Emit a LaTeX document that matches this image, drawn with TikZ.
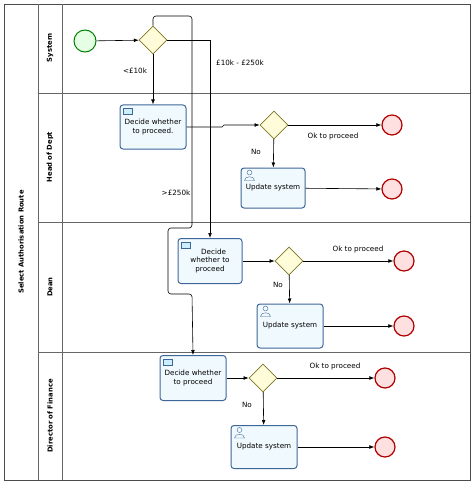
\documentclass[tikz,border=0pt]{standalone}
\usepackage{fontspec}
\setmainfont{DejaVu Sans}
\usetikzlibrary{shapes.geometric,arrows.meta}
\begin{document}
\begin{tikzpicture}[x=1pt,y=-1pt,font=\fontsize{7.2}{8.6}\selectfont,
  task/.style={draw=cyan!50!blue!70!black,line width=1pt,rounded corners=3pt,fill=cyan!6,minimum width=#1,inner sep=1pt},
  gw/.style={diamond,draw=olive!80!yellow!70!black,fill=yellow!15,line width=0.8pt,minimum size=28pt,inner sep=0},
  endev/.style={circle,draw=red!70!black,fill=red!12,line width=1.2pt,minimum size=20pt,inner sep=0},
  flow/.style={-{Latex[length=5pt]},line width=0.6pt},
  lane/.style={font=\fontsize{6.8}{8}\selectfont\bfseries}]
\useasboundingbox (0,0) rectangle (474,484);
\draw[line width=0.8pt,black!70] (4,4) rectangle (470,480);
\draw[black!60] (38,4) -- (38,480) (62,4) -- (62,480);
\draw[black!60] (38,93) -- (470,93) (38,222) -- (470,222) (38,352) -- (470,352);
\node[lane,rotate=90] (title) at (21,242) {Select Authorisation Route};
\node[lane,rotate=90] (l1) at (50,48) {System};
\node[lane,rotate=90] (l2) at (50,157) {Head of Dept};
\node[lane,rotate=90] (l3) at (50,287) {Dean};
\node[lane,rotate=90] (l4) at (50,416) {Director of Finance};
% nodes
\node[circle,draw=green!50!black,fill=green!10,line width=1pt,minimum size=22pt] (start) at (85,41) {};
\node[gw] (g1) at (153,40) {};
\node[task,minimum width=66pt,minimum height=44pt,align=center] (d1) at (153,127) {Decide whether\\to proceed.};
\node[gw] (g2) at (274,125) {};
\node[endev] (e1) at (392,125) {};
\node[task,minimum width=64pt,minimum height=40pt] (u1) at (273,188) {Update system};
\node[endev] (e2) at (392,189) {};
\node[task,minimum width=64pt,minimum height=45pt,align=center] (d2) at (210,261) {\quad Decide\\whether to\\proceed};
\node[gw] (g3) at (289,261) {};
\node[endev] (e3) at (404,261) {};
\node[task,minimum width=66pt,minimum height=44pt] (u2) at (290,326) {Update system};
\node[endev] (e4) at (404,326) {};
\node[task,minimum width=66pt,minimum height=45pt,align=center] (d3) at (193,378) {Decide whether\\to proceed};
\node[gw] (g4) at (263,378) {};
\node[endev] (e5) at (385,378) {};
\node[task,minimum width=66pt,minimum height=43pt] (u3) at (264,447) {Update system};
\node[endev] (e6) at (385,447) {};
% icons
\foreach \n in {d1,d2,d3}{\draw[cyan!50!blue!70!black,fill=cyan!20,line width=0.4pt] ([shift={(4,4)}]\n.north west) rectangle ++(9,6);}
\foreach \n in {u1,u2,u3}{\draw[cyan!50!blue!70!black,line width=0.4pt] ([shift={(9,5)}]\n.north west) circle (2.5) ([shift={(4,13)}]\n.north west) .. controls ++(0,-5) and ++(0,-5) .. ++(10,0) -- cycle;}
% flows
\draw[flow] (start) -- (g1);
\draw[flow] (g1) -- (d1);
\draw[flow] (g1.east) -- (210,40) -- (d2.north);
\draw[flow,rounded corners=3pt] (g1.north) -- (153,16) -- (192,16) -- (192,228) -- (168,228) -- (168,294) -- (192,294) -- (d3.north);
\draw[flow] (d1.east) -- (222,127) -- (224,125) -- (g2);
\draw[flow] (g2) -- (e1);
\draw[flow] (g2) -- (u1);
\draw[flow] (u1) -- (e2);
\draw[flow] (d2) -- (g3);
\draw[flow] (g3) -- (e3);
\draw[flow] (g3) -- (u2);
\draw[flow] (u2) -- (e4);
\draw[flow] (d3) -- (g4);
\draw[flow] (g4) -- (e5);
\draw[flow] (g4) -- (u3);
\draw[flow] (u3) -- (e6);
% labels
\node (t1) at (135,71) {<£10k};
\node (t2) at (240,63) {£10k - £250k};
\node (t3) at (176,193) {>£250k};
\node (t4) at (333,137) {Ok to proceed};
\node (t5) at (256,152) {No};
\node (t6) at (358,250) {Ok to proceed};
\node (t7) at (278,285) {No};
\node (t8) at (335,367) {Ok to proceed};
\node (t9) at (247,405) {No};
\end{tikzpicture}
\end{document}
